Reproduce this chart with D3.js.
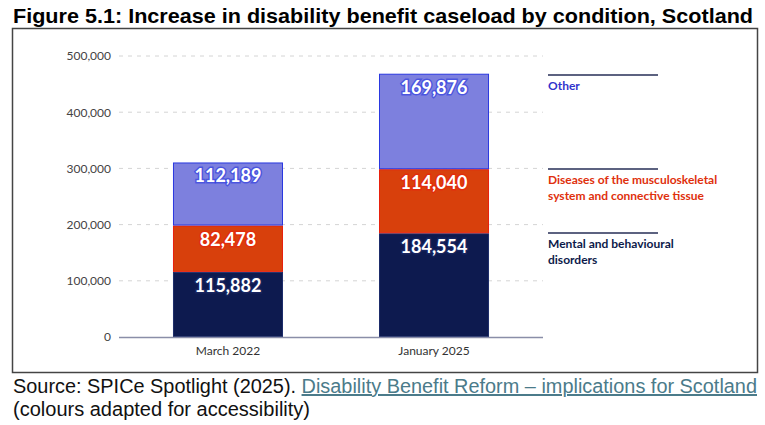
<!DOCTYPE html>
<html>
<head>
<meta charset="utf-8">
<script src="https://cdn.jsdelivr.net/npm/d3@7"></script>
<style>
  body { margin: 0; background: #fff; }
  svg { display: block; }
</style>
</head>
<body>
<script>
// caseload by condition, Scotland
var categories = ["March 2022", "January 2025"];
var mental = [115882, 184554];
var diseases = [82478, 114040];
var other = [112189, 169876];
var yTicks = [0, 100000, 200000, 300000, 400000, 500000];

var series = [
  {key: "mental", values: mental, fill: "#0d1a4f", stroke: "#1d2c6a", label: ["Mental and behavioural", "disorders"], color: "#0d1a4a"},
  {key: "diseases", values: diseases, fill: "#d8400c", stroke: "#e8200c", label: ["Diseases of the musculoskeletal", "system and connective tissue"], color: "#e0300c"},
  {key: "other", values: other, fill: "#7d80de", stroke: "#2a38e0", label: ["Other"], color: "#3034cc"}
];

var W = 765, H = 425;
var svg = d3.select("body").append("svg").attr("width", W).attr("height", H);

// title
svg.append("text")
  .attr("x", 13).attr("y", 23)
  .attr("textLength", 740).attr("lengthAdjust", "spacingAndGlyphs")
  .style("font-family", "Liberation Sans, Arial, sans-serif")
  .style("font-weight", "bold").style("font-size", "21px")
  .text("Figure 5.1: Increase in disability benefit caseload by condition, Scotland");

// frame
svg.append("rect")
  .attr("x", 12.5).attr("y", 28.5).attr("width", 745).attr("height", 344)
  .attr("fill", "none").attr("stroke", "#444").attr("stroke-width", 1.5);

var y = d3.scaleLinear().domain([0, 500000]).range([337, 56]);
var x = d3.scaleBand().domain(categories).range([119, 543])
  .paddingInner(0.466).paddingOuter(0.262);

var chartFont = "Lato, 'Open Sans', sans-serif";

// gridlines
svg.append("g").selectAll("line")
  .data(yTicks.filter(function(d) { return d > 0; }))
  .join("line")
  .attr("x1", 119).attr("x2", 543)
  .attr("y1", function(d) { return y(d); }).attr("y2", function(d) { return y(d); })
  .attr("stroke", "#d4d4d4").attr("stroke-width", 1).attr("stroke-dasharray", "4,5");

// y axis labels
var yAxis = d3.axisLeft(y).tickValues(yTicks).tickSize(0).tickPadding(0)
  .tickFormat(function(d) { return d === 0 ? "0" : d3.format(",")(d); });
var ya = svg.append("g").attr("transform", "translate(111,0)").call(yAxis);
ya.select(".domain").remove();
ya.selectAll("text").style("font-family", chartFont).style("font-size", "12px").attr("fill", "#444");

// stacked data
var stackData = categories.map(function(c, i) {
  var o = {cat: c};
  series.forEach(function(s) { o[s.key] = s.values[i]; });
  return o;
});
var stack = d3.stack().keys(series.map(function(s) { return s.key; }))(stackData);

var groups = svg.append("g").selectAll("g")
  .data(stack).join("g");

groups.each(function(layer, li) {
  var s = series[li];
  var g = d3.select(this);
  g.selectAll("rect").data(layer).join("rect")
    .attr("x", function(d) { return x(d.data.cat) + 0.5; })
    .attr("width", x.bandwidth() - 1)
    .attr("y", function(d) { return y(d[1]) + 0.5; })
    .attr("height", function(d) { return y(d[0]) - y(d[1]) - 1; })
    .attr("fill", s.fill).attr("stroke", s.stroke).attr("stroke-width", 1);
  // value labels with glow
  g.selectAll("text.halo").data(layer).join("text")
    .attr("class", "halo")
    .attr("x", function(d) { return x(d.data.cat) + x.bandwidth() / 2; })
    .attr("y", function(d) { return y(d[1]) + 20; })
    .attr("text-anchor", "middle")
    .style("font-family", chartFont).style("font-weight", "bold").style("font-size", "18px")
    .attr("fill", "none").attr("stroke", s.stroke).attr("stroke-width", 3).attr("stroke-opacity", 0.6)
    .text(function(d) { return d3.format(",")(d[1] - d[0]); });
  g.selectAll("text.val").data(layer).join("text")
    .attr("class", "val")
    .attr("x", function(d) { return x(d.data.cat) + x.bandwidth() / 2; })
    .attr("y", function(d) { return y(d[1]) + 20; })
    .attr("text-anchor", "middle")
    .style("font-family", chartFont).style("font-weight", "bold").style("font-size", "18px")
    .attr("fill", "#fff")
    .text(function(d) { return d3.format(",")(d[1] - d[0]); });
});

// totals
var top = stack[stack.length - 1];
svg.append("g").selectAll("text").data(top).join("text")
  .attr("x", function(d) { return x(d.data.cat) + x.bandwidth() / 2; })
  .attr("y", function(d) { return y(d[1]) - 8; })
  .attr("text-anchor", "middle")
  .style("font-family", chartFont).style("font-weight", "bold").style("font-size", "19px")
  .attr("fill", "#111")
  .text(function(d) { return d3.format(",")(d[1]); });

// zero line
svg.append("line")
  .attr("x1", 119).attr("x2", 543).attr("y1", y(0) + 0.5).attr("y2", y(0) + 0.5)
  .attr("stroke", "#8a8ea8").attr("stroke-width", 1.5);

// x labels
var xAxis = d3.axisBottom(x).tickSize(0).tickPadding(0);
var xa = svg.append("g").attr("transform", "translate(0,346)").call(xAxis);
xa.select(".domain").remove();
xa.selectAll("text").style("font-family", chartFont).style("font-size", "12px").attr("fill", "#333");

// legend, placed beside the January 2025 segment midpoints
var legendY = [233, 169, 75];
var leg = svg.append("g").selectAll("g").data(series).join("g")
  .attr("transform", function(d, i) { return "translate(548," + legendY[i] + ")"; });
leg.append("line").attr("x1", 0).attr("x2", 110).attr("y1", 0).attr("y2", 0)
  .attr("stroke", "#5c6280").attr("stroke-width", 2);
leg.each(function(d) {
  var t = d3.select(this).append("text")
    .style("font-family", chartFont).style("font-weight", "bold").style("font-size", "12px")
    .attr("fill", d.color);
  d.label.forEach(function(line, j) {
    t.append("tspan").attr("x", 0).attr("y", 15 + j * 16).text(line);
  });
});

// source
var src = svg.append("text").attr("x", 13).attr("y", 393)
  .attr("textLength", 744).attr("lengthAdjust", "spacingAndGlyphs")
  .style("font-family", "Liberation Sans, Arial, sans-serif").style("font-size", "20px").attr("fill", "#111");
src.append("tspan").text("Source: SPICe Spotlight (2025). ");
src.append("tspan").attr("fill", "#4b7b8a").style("text-decoration", "underline")
  .text("Disability Benefit Reform \u2013 implications for Scotland");
svg.append("text").attr("x", 13).attr("y", 416)
  .attr("textLength", 297).attr("lengthAdjust", "spacingAndGlyphs")
  .style("font-family", "Liberation Sans, Arial, sans-serif").style("font-size", "20px").attr("fill", "#111")
  .text("(colours adapted for accessibility)");
</script>
</body>
</html>
